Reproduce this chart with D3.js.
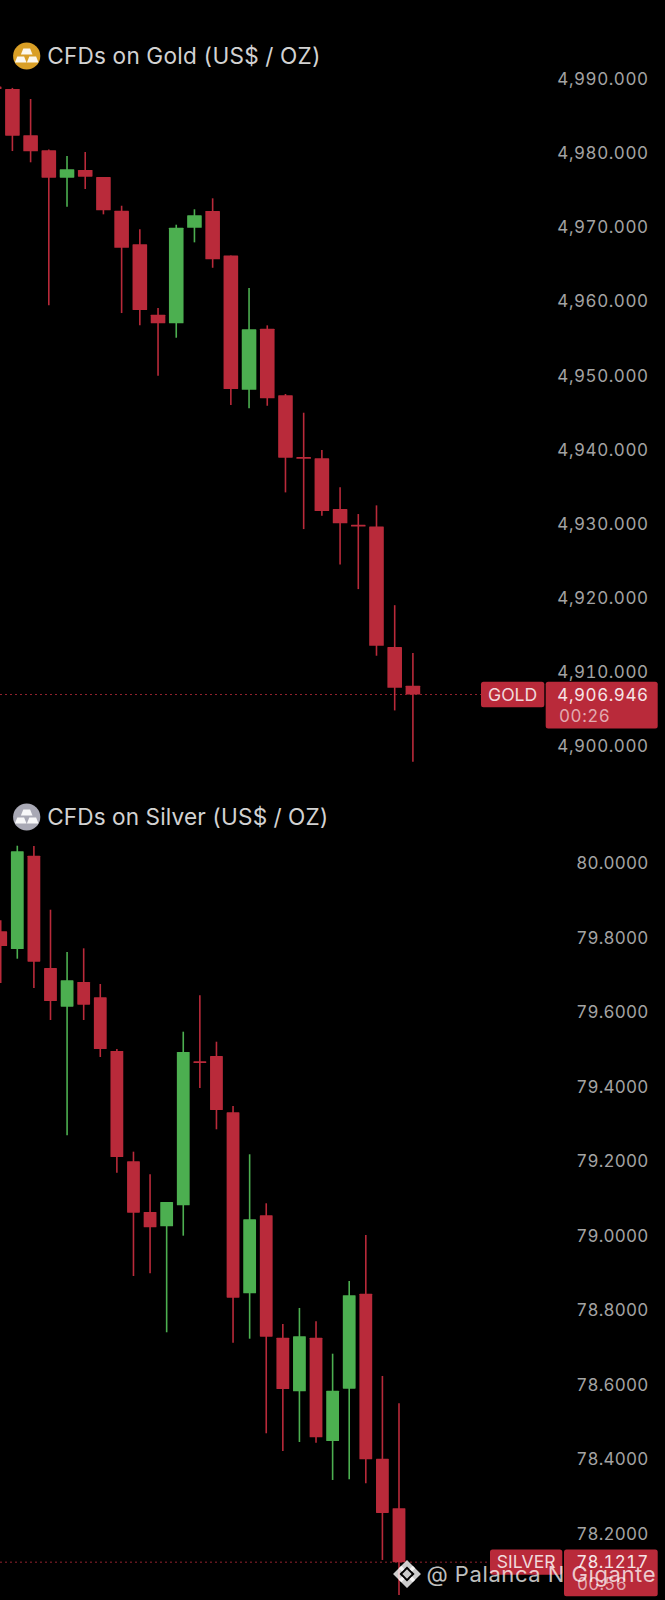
<!DOCTYPE html>
<html><head><meta charset="utf-8">
<script src="https://cdn.jsdelivr.net/npm/d3@7/dist/d3.min.js"></script>
<style>html,body{margin:0;padding:0;background:#000}svg{display:block}text{font-family:Inter,"Noto Sans",sans-serif;font-variant-numeric:tabular-nums}</style>
</head><body><svg id="c" width="665" height="1600"></svg>
<script>
// Gold candles, one entry per candle
const goldIndex = [-1,0,1,2,3,4,5,6,7,8,9,10,11,12,13,14,15,16,17,18,19,20,21,22];
const goldOpen  = [4989.0,4988.65,4982.4,4980.38,4976.68,4977.72,4976.77,4972.23,4967.69,4958.19,4957.03,4969.93,4972.19,4966.2,4948.07,4956.3,4947.32,4939.0,4938.81,4931.97,4929.85,4929.63,4913.35,4908.13];
const goldClose = [4988.65,4982.35,4980.24,4976.68,4977.81,4976.82,4972.28,4967.23,4958.83,4957.03,4969.93,4971.61,4965.67,4948.16,4956.22,4946.91,4938.9,4938.9,4931.7,4930.04,4929.7,4913.53,4907.85,4906.946];
const goldHigh  = [4989.3,4988.8,4987.3,4980.5,4979.6,4980.15,4976.77,4972.9,4969.72,4959.1,4970.34,4972.42,4973.9,4966.2,4961.8,4956.76,4947.5,4944.97,4939.93,4934.9,4931.3,4932.47,4919.0,4912.54];
const goldLow   = [4988.5,4980.28,4978.76,4959.46,4972.77,4975.16,4971.74,4958.42,4956.76,4949.96,4955.09,4967.96,4964.53,4946.0,4945.56,4945.91,4934.22,4929.27,4931.07,4924.5,4921.17,4912.18,4904.8,4897.87];
const goldTicks = [4990,4980,4970,4960,4950,4940,4930,4920,4910,4900];
const goldLast  = 4906.946;

// Silver candles
const silverIndex = [-1,0,1,2,3,4,5,6,7,8,9,10,11,12,13,14,15,16,17,18,19,20,21,22,23];
const silverOpen  = [79.8158,79.7683,80.0188,79.7172,79.6133,79.6797,79.6386,79.4944,79.1982,79.062,79.0236,79.08,79.467,79.4809,79.3297,78.8437,79.0532,78.7245,78.5806,78.7245,78.4471,78.5876,78.8427,78.3996,78.2664];
const silverClose = [79.7763,80.0306,79.7342,79.6286,79.6842,79.6187,79.4997,79.2097,79.0602,79.021,79.0889,79.4917,79.465,79.3359,78.8319,79.0424,78.7272,78.5867,78.7283,78.457,78.5822,78.8384,78.398,78.2538,78.1217];
const silverHigh  = [79.8453,80.0456,80.0448,79.8738,79.7602,79.7701,79.6743,79.4997,79.224,79.1633,79.0889,79.5462,79.6439,79.5193,79.3467,79.217,79.0854,78.7613,78.8043,78.7685,78.6815,78.8767,79.0003,78.6217,78.5483];
const silverLow   = [79.677,79.7422,79.6635,79.5776,79.268,79.5776,79.4783,79.1676,78.8902,78.8974,78.739,78.9984,79.395,79.2841,78.7111,78.7218,78.4678,78.4203,78.4444,78.4425,78.3424,78.3443,78.3335,78.1276,78.0336];
const silverTicks = [80,79.8,79.6,79.4,79.2,79,78.8,78.6,78.4,78.2];
const silverLast  = 78.1217;

const UP = "#4caf50", DOWN = "#b92a3a";
const svg = d3.select("#c");
svg.append("rect").attr("width",665).attr("height",1600).attr("fill","#000");

function panel(o){
  const g = svg.append("g");
  const clipId = "clip"+o.name;
  svg.append("clipPath").attr("id",clipId).append("rect").attr("x",0).attr("y",o.clipTop).attr("width",665).attr("height",o.clipH);
  const x = d3.scaleLinear().domain(o.xDom).range(o.xRange);
  const y = d3.scaleLinear().domain(o.yDom).range(o.yRange);

  // dotted last-price line
  g.append("line").attr("x1",0).attr("x2",o.lineEnd).attr("y1",y(o.last)).attr("y2",y(o.last))
    .attr("stroke",DOWN).attr("stroke-opacity",.8).attr("stroke-width",1).attr("stroke-dasharray","2,3");

  const data = o.idx.map((d,i)=>({i:d,open:o.open[i],close:o.close[i],high:o.high[i],low:o.low[i]}));
  const cg = g.append("g").attr("clip-path",`url(#${clipId})`);
  const col = d=>d.close>d.open?UP:DOWN;
  cg.selectAll("line.w").data(data).join("line").attr("class","w")
    .attr("x1",d=>x(d.i)).attr("x2",d=>x(d.i)).attr("y1",d=>y(d.high)).attr("y2",d=>y(d.low))
    .attr("stroke",col).attr("stroke-width",1.6);
  cg.selectAll("rect.b").data(data).join("rect").attr("class","b")
    .attr("x",d=>x(d.i)-o.bw/2).attr("width",o.bw)
    .attr("y",d=>y(Math.max(d.open,d.close)))
    .attr("height",d=>Math.max(1.8,Math.abs(y(d.open)-y(d.close))))
    .attr("rx",.6).attr("fill",col);

  // price axis
  const ax = d3.axisRight(y).tickValues(o.ticks).tickFormat(o.fmt).tickSize(0);
  const ag = g.append("g").attr("transform","translate(648.6,0)").call(ax);
  ag.select(".domain").remove();
  ag.selectAll("text").attr("x",0).attr("y",o.tickShift).attr("dy",".36em").attr("text-anchor","end")
    .attr("fill","#a3a3a3").attr("font-size",o.tickSize).attr("letter-spacing",o.tickLs).style("font-family","Inter");

  // title + icon
  const t = g.append("g").attr("transform",`translate(26.7,${o.titleY})`);
  t.append("circle").attr("r",13.6).attr("fill",o.iconCol);
  [[0,-4.5],[-6,3.5],[6,3.5]].forEach(p=>{
    t.append("path").attr("d",`M${p[0]-3.4},${p[1]-3} h6.8 l2.4,6 h-11.6 z`).attr("fill","#fff").attr("fill-opacity",.92);
  });
  g.append("text").attr("x",47.2).attr("y",o.titleY).attr("dy",".36em").attr("fill","#d2d2d2")
    .attr("font-size",o.titleSize).attr("letter-spacing",o.titleLs).text(o.title);

  // price tags
  const ty = y(o.last);
  g.append("rect").attr("x",o.tagX).attr("y",ty-12.7).attr("width",o.tagW).attr("height",25.4).attr("rx",2.5).attr("fill",DOWN);
  g.append("text").attr("x",o.tagX+o.tagW/2).attr("y",ty).attr("dy",".36em").attr("text-anchor","middle")
    .attr("fill","#f1d9dc").attr("font-size",17.6).text(o.name);
  g.append("rect").attr("x",o.boxX).attr("y",ty-12.7).attr("width",657.7-o.boxX).attr("height",46.7).attr("rx",2.5).attr("fill",DOWN);
  g.append("text").attr("x",648.6).attr("y",ty).attr("dy",".36em").attr("text-anchor","end")
    .attr("fill","#f6e4e6").attr("font-size",o.tickSize).attr("letter-spacing",o.tickLs).text(o.fmt(o.last));
  g.append("text").attr("x",o.cdX).attr("y",ty+21.5).attr("dy",".36em")
    .attr("fill","#e2a9b0").attr("font-size",o.tickSize).attr("letter-spacing",o.tickLs).text(o.countdown);
}

const gf = v=>d3.format(",.3f")(v);
const sf = v=>d3.format(".4f")(v);

panel({name:"GOLD",title:"CFDs on Gold (US$ / OZ)",titleY:56,titleSize:22.6,titleLs:.25,iconCol:"#d99f26",
  idx:goldIndex,open:goldOpen,close:goldClose,high:goldHigh,low:goldLow,ticks:goldTicks,last:goldLast,
  xDom:[0,22],xRange:[12.4,412.9],bw:14.6,yDom:[4990,4900],yRange:[79,746],fmt:gf,tickShift:-.5,
  tagX:481,tagW:63.3,boxX:545.7,cdX:559,countdown:"00:26",lineEnd:481,clipTop:80,clipH:700,tickSize:17,tickLs:.55});

panel({name:"SILVER",title:"CFDs on Silver (US$ / OZ)",titleY:817,titleSize:22.6,titleLs:.15,iconCol:"#a9a9b5",
  idx:silverIndex,open:silverOpen,close:silverClose,high:silverHigh,low:silverLow,ticks:silverTicks,last:silverLast,
  xDom:[0,23],xRange:[17.3,399],bw:12.8,yDom:[80,78.2],yRange:[862.7,1533],fmt:sf,tickShift:0,
  tagX:490,tagW:72.3,boxX:564,cdX:577,countdown:"00:56",lineEnd:490,clipTop:840,clipH:760,tickSize:17,tickLs:.25});

// watermark
const wm = svg.append("g").attr("transform","translate(407,1574) scale(1.1)").attr("fill","#fff").attr("fill-opacity",.8);
wm.append("rect").attr("x",-3).attr("y",-3).attr("width",6).attr("height",6).attr("transform","rotate(45)");
[0,90,180,270].forEach(r=>{
  wm.append("path").attr("d","M-7.5,-5.2 L0,-12.7 L7.5,-5.2 L4.6,-2.3 L0,-6.9 L-4.6,-2.3 Z").attr("transform",`rotate(${r})`);
});
svg.append("text").attr("x",426.5).attr("y",1574).attr("dy",".36em").attr("fill","#fff").attr("fill-opacity",.75)
  .attr("font-size",22).attr("letter-spacing",.6).text("@ Palanca N Gigante");
</script></body></html>
